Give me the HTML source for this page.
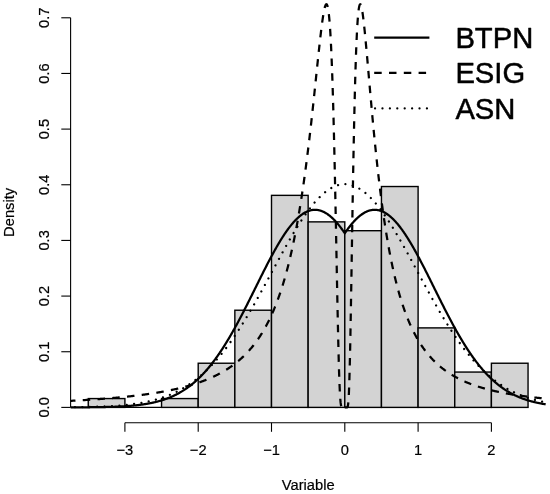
<!DOCTYPE html>
<html><head><meta charset="utf-8"><title>Density plot</title>
<style>html,body{margin:0;padding:0;background:#fff}svg{display:block}</style></head>
<body>
<svg width="550" height="494" viewBox="0 0 550 494">
<rect width="550" height="494" fill="#fff"/>
<g fill="#d3d3d3" stroke="#000" stroke-width="1.4"><rect x="88.25" y="398.57" width="36.65" height="8.83"/><path d="M124.90 407.40 H161.55"/><rect x="161.55" y="398.57" width="36.65" height="8.83"/><rect x="198.20" y="363.23" width="36.65" height="44.17"/><rect x="234.85" y="310.22" width="36.65" height="97.18"/><rect x="271.50" y="195.36" width="36.65" height="212.04"/><rect x="308.15" y="221.87" width="36.65" height="185.53"/><rect x="344.80" y="230.70" width="36.65" height="176.70"/><rect x="381.45" y="186.53" width="36.65" height="220.87"/><rect x="418.10" y="327.89" width="36.65" height="79.51"/><rect x="454.75" y="372.06" width="36.65" height="35.34"/><rect x="491.40" y="363.23" width="36.65" height="44.17"/></g>
<g fill="none" stroke="#000" stroke-width="1.1"><path d="M70.60 407.40 V17.78"/><path d="M70.60 407.40 H61.30"/><path d="M70.60 351.74 H61.30"/><path d="M70.60 296.08 H61.30"/><path d="M70.60 240.42 H61.30"/><path d="M70.60 184.76 H61.30"/><path d="M70.60 129.10 H61.30"/><path d="M70.60 73.44 H61.30"/><path d="M70.60 17.78 H61.30"/><path d="M124.90 422.80 H491.40"/><path d="M124.90 422.80 V431.80"/><path d="M198.20 422.80 V431.80"/><path d="M271.50 422.80 V431.80"/><path d="M344.80 422.80 V431.80"/><path d="M418.10 422.80 V431.80"/><path d="M491.40 422.80 V431.80"/></g>
<g fill="none" stroke="#000" stroke-width="2.25" stroke-linejoin="round">
<path d="M70.66 407.36 L71.05 407.36 L71.45 407.36 L71.85 407.35 L72.24 407.35 L72.64 407.35 L73.03 407.35 L73.43 407.35 L73.82 407.35 L74.22 407.35 L74.62 407.35 L75.01 407.34 L75.41 407.34 L75.80 407.34 L76.20 407.34 L76.60 407.34 L76.99 407.34 L77.39 407.33 L77.78 407.33 L78.18 407.33 L78.57 407.33 L78.97 407.33 L79.37 407.32 L79.76 407.32 L80.16 407.32 L80.55 407.32 L80.95 407.32 L81.35 407.31 L81.74 407.31 L82.14 407.31 L82.53 407.31 L82.93 407.30 L83.32 407.30 L83.72 407.30 L84.12 407.30 L84.51 407.29 L84.91 407.29 L85.30 407.29 L85.70 407.29 L86.09 407.28 L86.49 407.28 L86.89 407.28 L87.28 407.27 L87.68 407.27 L88.07 407.27 L88.47 407.26 L88.87 407.26 L89.26 407.26 L89.66 407.25 L90.05 407.25 L90.45 407.24 L90.84 407.24 L91.24 407.24 L91.64 407.23 L92.03 407.23 L92.43 407.22 L92.82 407.22 L93.22 407.22 L93.62 407.21 L94.01 407.21 L94.41 407.20 L94.80 407.20 L95.20 407.19 L95.59 407.19 L95.99 407.18 L96.39 407.17 L96.78 407.17 L97.18 407.16 L97.57 407.16 L97.97 407.15 L98.37 407.15 L98.76 407.14 L99.16 407.13 L99.55 407.13 L99.95 407.12 L100.34 407.11 L100.74 407.11 L101.14 407.10 L101.53 407.09 L101.93 407.08 L102.32 407.08 L102.72 407.07 L103.12 407.06 L103.51 407.05 L103.91 407.04 L104.30 407.04 L104.70 407.03 L105.09 407.02 L105.49 407.01 L105.89 407.00 L106.28 406.99 L106.68 406.98 L107.07 406.97 L107.47 406.96 L107.87 406.95 L108.26 406.94 L108.66 406.93 L109.05 406.92 L109.45 406.91 L109.84 406.89 L110.24 406.88 L110.64 406.87 L111.03 406.86 L111.43 406.85 L111.82 406.83 L112.22 406.82 L112.61 406.81 L113.01 406.79 L113.41 406.78 L113.80 406.76 L114.20 406.75 L114.59 406.74 L114.99 406.72 L115.39 406.70 L115.78 406.69 L116.18 406.67 L116.57 406.66 L116.97 406.64 L117.36 406.62 L117.76 406.61 L118.16 406.59 L118.55 406.57 L118.95 406.55 L119.34 406.53 L119.74 406.51 L120.14 406.49 L120.53 406.47 L120.93 406.45 L121.32 406.43 L121.72 406.41 L122.11 406.39 L122.51 406.37 L122.91 406.34 L123.30 406.32 L123.70 406.30 L124.09 406.27 L124.49 406.25 L124.89 406.22 L125.28 406.20 L125.68 406.17 L126.07 406.15 L126.47 406.12 L126.86 406.09 L127.26 406.07 L127.66 406.04 L128.05 406.01 L128.45 405.98 L128.84 405.95 L129.24 405.92 L129.64 405.89 L130.03 405.85 L130.43 405.82 L130.82 405.79 L131.22 405.76 L131.61 405.72 L132.01 405.69 L132.41 405.65 L132.80 405.61 L133.20 405.58 L133.59 405.54 L133.99 405.50 L134.39 405.46 L134.78 405.42 L135.18 405.38 L135.57 405.34 L135.97 405.30 L136.36 405.26 L136.76 405.21 L137.16 405.17 L137.55 405.13 L137.95 405.08 L138.34 405.03 L138.74 404.99 L139.13 404.94 L139.53 404.89 L139.93 404.84 L140.32 404.79 L140.72 404.74 L141.11 404.68 L141.51 404.63 L141.91 404.58 L142.30 404.52 L142.70 404.46 L143.09 404.41 L143.49 404.35 L143.88 404.29 L144.28 404.23 L144.68 404.17 L145.07 404.11 L145.47 404.04 L145.86 403.98 L146.26 403.91 L146.66 403.85 L147.05 403.78 L147.45 403.71 L147.84 403.64 L148.24 403.57 L148.63 403.50 L149.03 403.42 L149.43 403.35 L149.82 403.27 L150.22 403.19 L150.61 403.12 L151.01 403.04 L151.41 402.96 L151.80 402.87 L152.20 402.79 L152.59 402.70 L152.99 402.62 L153.38 402.53 L153.78 402.44 L154.18 402.35 L154.57 402.26 L154.97 402.17 L155.36 402.07 L155.76 401.97 L156.16 401.88 L156.55 401.78 L156.95 401.68 L157.34 401.57 L157.74 401.47 L158.13 401.37 L158.53 401.26 L158.93 401.15 L159.32 401.04 L159.72 400.93 L160.11 400.81 L160.51 400.70 L160.90 400.58 L161.30 400.46 L161.70 400.34 L162.09 400.22 L162.49 400.10 L162.88 399.97 L163.28 399.84 L163.68 399.71 L164.07 399.58 L164.47 399.45 L164.86 399.31 L165.26 399.17 L165.65 399.03 L166.05 398.89 L166.45 398.75 L166.84 398.61 L167.24 398.46 L167.63 398.31 L168.03 398.16 L168.43 398.00 L168.82 397.85 L169.22 397.69 L169.61 397.53 L170.01 397.37 L170.40 397.20 L170.80 397.04 L171.20 396.87 L171.59 396.70 L171.99 396.52 L172.38 396.35 L172.78 396.17 L173.18 395.99 L173.57 395.81 L173.97 395.62 L174.36 395.43 L174.76 395.24 L175.15 395.05 L175.55 394.86 L175.95 394.66 L176.34 394.46 L176.74 394.25 L177.13 394.05 L177.53 393.84 L177.93 393.63 L178.32 393.42 L178.72 393.20 L179.11 392.98 L179.51 392.76 L179.90 392.54 L180.30 392.31 L180.70 392.08 L181.09 391.85 L181.49 391.61 L181.88 391.38 L182.28 391.14 L182.68 390.89 L183.07 390.64 L183.47 390.40 L183.86 390.14 L184.26 389.89 L184.65 389.63 L185.05 389.37 L185.45 389.10 L185.84 388.83 L186.24 388.56 L186.63 388.29 L187.03 388.01 L187.42 387.73 L187.82 387.45 L188.22 387.16 L188.61 386.87 L189.01 386.58 L189.40 386.28 L189.80 385.99 L190.20 385.68 L190.59 385.38 L190.99 385.07 L191.38 384.76 L191.78 384.44 L192.17 384.12 L192.57 383.80 L192.97 383.47 L193.36 383.14 L193.76 382.81 L194.15 382.47 L194.55 382.13 L194.95 381.79 L195.34 381.44 L195.74 381.09 L196.13 380.74 L196.53 380.38 L196.92 380.02 L197.32 379.65 L197.72 379.29 L198.11 378.91 L198.51 378.54 L198.90 378.16 L199.30 377.78 L199.70 377.39 L200.09 377.00 L200.49 376.61 L200.88 376.21 L201.28 375.81 L201.67 375.40 L202.07 374.99 L202.47 374.58 L202.86 374.16 L203.26 373.74 L203.65 373.32 L204.05 372.89 L204.45 372.46 L204.84 372.02 L205.24 371.58 L205.63 371.14 L206.03 370.69 L206.42 370.24 L206.82 369.79 L207.22 369.33 L207.61 368.87 L208.01 368.40 L208.40 367.93 L208.80 367.46 L209.20 366.98 L209.59 366.50 L209.99 366.01 L210.38 365.52 L210.78 365.03 L211.17 364.53 L211.57 364.03 L211.97 363.52 L212.36 363.01 L212.76 362.50 L213.15 361.98 L213.55 361.46 L213.94 360.94 L214.34 360.41 L214.74 359.87 L215.13 359.34 L215.53 358.80 L215.92 358.25 L216.32 357.70 L216.72 357.15 L217.11 356.59 L217.51 356.03 L217.90 355.47 L218.30 354.90 L218.69 354.33 L219.09 353.75 L219.49 353.18 L219.88 352.59 L220.28 352.00 L220.67 351.41 L221.07 350.82 L221.47 350.22 L221.86 349.62 L222.26 349.01 L222.65 348.40 L223.05 347.79 L223.44 347.17 L223.84 346.55 L224.24 345.93 L224.63 345.30 L225.03 344.67 L225.42 344.03 L225.82 343.39 L226.22 342.75 L226.61 342.10 L227.01 341.46 L227.40 340.80 L227.80 340.15 L228.19 339.49 L228.59 338.82 L228.99 338.16 L229.38 337.49 L229.78 336.81 L230.17 336.13 L230.57 335.45 L230.97 334.77 L231.36 334.08 L231.76 333.39 L232.15 332.70 L232.55 332.01 L232.94 331.31 L233.34 330.60 L233.74 329.90 L234.13 329.19 L234.53 328.48 L234.92 327.76 L235.32 327.05 L235.71 326.33 L236.11 325.60 L236.51 324.88 L236.90 324.15 L237.30 323.42 L237.69 322.69 L238.09 321.95 L238.49 321.21 L238.88 320.47 L239.28 319.73 L239.67 318.98 L240.07 318.23 L240.46 317.48 L240.86 316.73 L241.26 315.97 L241.65 315.21 L242.05 314.45 L242.44 313.69 L242.84 312.93 L243.24 312.16 L243.63 311.39 L244.03 310.62 L244.42 309.85 L244.82 309.08 L245.21 308.30 L245.61 307.52 L246.01 306.75 L246.40 305.97 L246.80 305.18 L247.19 304.40 L247.59 303.62 L247.99 302.83 L248.38 302.04 L248.78 301.26 L249.17 300.47 L249.57 299.68 L249.96 298.88 L250.36 298.09 L250.76 297.30 L251.15 296.50 L251.55 295.71 L251.94 294.91 L252.34 294.12 L252.74 293.32 L253.13 292.52 L253.53 291.72 L253.92 290.93 L254.32 290.13 L254.71 289.33 L255.11 288.53 L255.51 287.73 L255.90 286.93 L256.30 286.13 L256.69 285.33 L257.09 284.54 L257.49 283.74 L257.88 282.94 L258.28 282.14 L258.67 281.35 L259.07 280.55 L259.46 279.75 L259.86 278.96 L260.26 278.16 L260.65 277.37 L261.05 276.58 L261.44 275.79 L261.84 275.00 L262.23 274.21 L262.63 273.42 L263.03 272.63 L263.42 271.85 L263.82 271.06 L264.21 270.28 L264.61 269.50 L265.01 268.72 L265.40 267.94 L265.80 267.17 L266.19 266.40 L266.59 265.62 L266.98 264.86 L267.38 264.09 L267.78 263.32 L268.17 262.56 L268.57 261.80 L268.96 261.04 L269.36 260.29 L269.76 259.54 L270.15 258.79 L270.55 258.04 L270.94 257.30 L271.34 256.56 L271.73 255.82 L272.13 255.09 L272.53 254.36 L272.92 253.63 L273.32 252.90 L273.71 252.18 L274.11 251.47 L274.51 250.75 L274.90 250.04 L275.30 249.34 L275.69 248.63 L276.09 247.94 L276.48 247.24 L276.88 246.55 L277.28 245.87 L277.67 245.18 L278.07 244.51 L278.46 243.83 L278.86 243.17 L279.26 242.50 L279.65 241.84 L280.05 241.19 L280.44 240.54 L280.84 239.90 L281.23 239.26 L281.63 238.62 L282.03 237.99 L282.42 237.37 L282.82 236.75 L283.21 236.14 L283.61 235.53 L284.00 234.93 L284.40 234.33 L284.80 233.74 L285.19 233.15 L285.59 232.57 L285.98 232.00 L286.38 231.43 L286.78 230.87 L287.17 230.32 L287.57 229.77 L287.96 229.22 L288.36 228.69 L288.75 228.15 L289.15 227.63 L289.55 227.11 L289.94 226.60 L290.34 226.10 L290.73 225.60 L291.13 225.11 L291.53 224.62 L291.92 224.14 L292.32 223.67 L292.71 223.21 L293.11 222.75 L293.50 222.30 L293.90 221.86 L294.30 221.43 L294.69 221.00 L295.09 220.58 L295.48 220.16 L295.88 219.76 L296.28 219.36 L296.67 218.97 L297.07 218.59 L297.46 218.21 L297.86 217.84 L298.25 217.48 L298.65 217.13 L299.05 216.78 L299.44 216.45 L299.84 216.12 L300.23 215.80 L300.63 215.48 L301.03 215.18 L301.42 214.88 L301.82 214.59 L302.21 214.31 L302.61 214.04 L303.00 213.78 L303.40 213.52 L303.80 213.27 L304.19 213.03 L304.59 212.80 L304.98 212.58 L305.38 212.37 L305.78 212.16 L306.17 211.96 L306.57 211.77 L306.96 211.59 L307.36 211.42 L307.75 211.26 L308.15 211.11 L308.55 210.96 L308.94 210.82 L309.34 210.69 L309.73 210.57 L310.13 210.46 L310.52 210.36 L310.92 210.27 L311.32 210.18 L311.71 210.10 L312.11 210.04 L312.50 209.98 L312.90 209.93 L313.30 209.89 L313.69 209.85 L314.09 209.83 L314.48 209.81 L314.88 209.81 L315.27 209.81 L315.67 209.82 L316.07 209.84 L316.46 209.87 L316.86 209.91 L317.25 209.95 L317.65 210.01 L318.05 210.07 L318.44 210.15 L318.84 210.23 L319.23 210.32 L319.63 210.42 L320.02 210.52 L320.42 210.64 L320.82 210.76 L321.21 210.90 L321.61 211.04 L322.00 211.19 L322.40 211.35 L322.80 211.52 L323.19 211.69 L323.59 211.88 L323.98 212.07 L324.38 212.27 L324.77 212.48 L325.17 212.70 L325.57 212.93 L325.96 213.17 L326.36 213.41 L326.75 213.66 L327.15 213.92 L327.55 214.19 L327.94 214.47 L328.34 214.75 L328.73 215.05 L329.13 215.35 L329.52 215.66 L329.92 215.98 L330.32 216.30 L330.71 216.63 L331.11 216.98 L331.50 217.32 L331.90 217.68 L332.30 218.05 L332.69 218.42 L333.09 218.80 L333.48 219.19 L333.88 219.58 L334.27 219.98 L334.67 220.39 L335.07 220.81 L335.46 221.24 L335.86 221.67 L336.25 222.11 L336.65 222.55 L337.04 223.01 L337.44 223.47 L337.84 223.93 L338.23 224.41 L338.63 224.89 L339.02 225.38 L339.42 225.87 L339.82 226.38 L340.21 226.88 L340.61 227.40 L341.00 227.92 L341.40 228.45 L341.79 228.98 L342.19 229.52 L342.59 230.07 L342.98 230.62 L343.38 231.18 L343.77 231.75 L344.17 232.32 L344.57 232.90 L344.80 233.24 L344.96 233.00 L345.36 232.43 L345.75 231.85 L346.15 231.29 L346.54 230.73 L346.94 230.17 L347.34 229.62 L347.73 229.08 L348.13 228.55 L348.52 228.02 L348.92 227.50 L349.32 226.98 L349.71 226.47 L350.11 225.97 L350.50 225.47 L350.90 224.98 L351.29 224.50 L351.69 224.02 L352.09 223.55 L352.48 223.09 L352.88 222.64 L353.27 222.19 L353.67 221.75 L354.07 221.31 L354.46 220.89 L354.86 220.47 L355.25 220.06 L355.65 219.65 L356.04 219.26 L356.44 218.87 L356.84 218.49 L357.23 218.11 L357.63 217.75 L358.02 217.39 L358.42 217.04 L358.81 216.70 L359.21 216.36 L359.61 216.03 L360.00 215.72 L360.40 215.41 L360.79 215.10 L361.19 214.81 L361.59 214.52 L361.98 214.24 L362.38 213.97 L362.77 213.71 L363.17 213.46 L363.56 213.21 L363.96 212.97 L364.36 212.74 L364.75 212.52 L365.15 212.31 L365.54 212.11 L365.94 211.91 L366.34 211.73 L366.73 211.55 L367.13 211.38 L367.52 211.22 L367.92 211.07 L368.31 210.92 L368.71 210.79 L369.11 210.66 L369.50 210.54 L369.90 210.43 L370.29 210.33 L370.69 210.24 L371.09 210.16 L371.48 210.09 L371.88 210.02 L372.27 209.96 L372.67 209.92 L373.06 209.88 L373.46 209.85 L373.86 209.82 L374.25 209.81 L374.65 209.81 L375.04 209.81 L375.44 209.83 L375.84 209.85 L376.23 209.88 L376.63 209.92 L377.02 209.97 L377.42 210.02 L377.81 210.09 L378.21 210.17 L378.61 210.25 L379.00 210.34 L379.40 210.44 L379.79 210.55 L380.19 210.67 L380.59 210.80 L380.98 210.93 L381.38 211.08 L381.77 211.23 L382.17 211.39 L382.56 211.56 L382.96 211.74 L383.36 211.93 L383.75 212.12 L384.15 212.33 L384.54 212.54 L384.94 212.76 L385.33 212.99 L385.73 213.23 L386.13 213.47 L386.52 213.73 L386.92 213.99 L387.31 214.26 L387.71 214.54 L388.11 214.83 L388.50 215.12 L388.90 215.43 L389.29 215.74 L389.69 216.06 L390.08 216.39 L390.48 216.72 L390.88 217.06 L391.27 217.42 L391.67 217.77 L392.06 218.14 L392.46 218.52 L392.86 218.90 L393.25 219.29 L393.65 219.68 L394.04 220.09 L394.44 220.50 L394.83 220.92 L395.23 221.35 L395.63 221.78 L396.02 222.22 L396.42 222.67 L396.81 223.13 L397.21 223.59 L397.61 224.06 L398.00 224.53 L398.40 225.02 L398.79 225.51 L399.19 226.00 L399.58 226.51 L399.98 227.02 L400.38 227.53 L400.77 228.06 L401.17 228.59 L401.56 229.12 L401.96 229.66 L402.36 230.21 L402.75 230.77 L403.15 231.33 L403.54 231.90 L403.94 232.47 L404.33 233.05 L404.73 233.63 L405.13 234.22 L405.52 234.82 L405.92 235.42 L406.31 236.02 L406.71 236.64 L407.10 237.25 L407.50 237.88 L407.90 238.51 L408.29 239.14 L408.69 239.78 L409.08 240.42 L409.48 241.07 L409.88 241.72 L410.27 242.38 L410.67 243.04 L411.06 243.71 L411.46 244.38 L411.85 245.06 L412.25 245.74 L412.65 246.42 L413.04 247.11 L413.44 247.81 L413.83 248.50 L414.23 249.21 L414.63 249.91 L415.02 250.62 L415.42 251.33 L415.81 252.05 L416.21 252.77 L416.60 253.49 L417.00 254.22 L417.40 254.95 L417.79 255.68 L418.19 256.42 L418.58 257.16 L418.98 257.90 L419.38 258.65 L419.77 259.40 L420.17 260.15 L420.56 260.90 L420.96 261.66 L421.35 262.42 L421.75 263.18 L422.15 263.95 L422.54 264.71 L422.94 265.48 L423.33 266.25 L423.73 267.03 L424.13 267.80 L424.52 268.58 L424.92 269.36 L425.31 270.14 L425.71 270.92 L426.10 271.70 L426.50 272.49 L426.90 273.27 L427.29 274.06 L427.69 274.85 L428.08 275.64 L428.48 276.43 L428.88 277.22 L429.27 278.02 L429.67 278.81 L430.06 279.61 L430.46 280.40 L430.85 281.20 L431.25 281.99 L431.65 282.79 L432.04 283.59 L432.44 284.39 L432.83 285.19 L433.23 285.99 L433.62 286.78 L434.02 287.58 L434.42 288.38 L434.81 289.18 L435.21 289.98 L435.60 290.78 L436.00 291.58 L436.40 292.37 L436.79 293.17 L437.19 293.97 L437.58 294.77 L437.98 295.56 L438.37 296.36 L438.77 297.15 L439.17 297.94 L439.56 298.74 L439.96 299.53 L440.35 300.32 L440.75 301.11 L441.15 301.90 L441.54 302.69 L441.94 303.47 L442.33 304.26 L442.73 305.04 L443.12 305.82 L443.52 306.60 L443.92 307.38 L444.31 308.16 L444.71 308.93 L445.10 309.71 L445.50 310.48 L445.90 311.25 L446.29 312.02 L446.69 312.78 L447.08 313.55 L447.48 314.31 L447.87 315.07 L448.27 315.83 L448.67 316.59 L449.06 317.34 L449.46 318.09 L449.85 318.84 L450.25 319.59 L450.65 320.33 L451.04 321.07 L451.44 321.81 L451.83 322.55 L452.23 323.28 L452.62 324.02 L453.02 324.74 L453.42 325.47 L453.81 326.19 L454.21 326.91 L454.60 327.63 L455.00 328.35 L455.40 329.06 L455.79 329.77 L456.19 330.47 L456.58 331.18 L456.98 331.88 L457.37 332.57 L457.77 333.27 L458.17 333.96 L458.56 334.64 L458.96 335.33 L459.35 336.01 L459.75 336.69 L460.14 337.36 L460.54 338.03 L460.94 338.70 L461.33 339.36 L461.73 340.02 L462.12 340.68 L462.52 341.33 L462.92 341.98 L463.31 342.63 L463.71 343.27 L464.10 343.91 L464.50 344.55 L464.89 345.18 L465.29 345.81 L465.69 346.44 L466.08 347.06 L466.48 347.68 L466.87 348.29 L467.27 348.90 L467.67 349.51 L468.06 350.11 L468.46 350.71 L468.85 351.30 L469.25 351.90 L469.64 352.48 L470.04 353.07 L470.44 353.65 L470.83 354.22 L471.23 354.80 L471.62 355.36 L472.02 355.93 L472.42 356.49 L472.81 357.05 L473.21 357.60 L473.60 358.15 L474.00 358.70 L474.39 359.24 L474.79 359.77 L475.19 360.31 L475.58 360.84 L475.98 361.36 L476.37 361.89 L476.77 362.40 L477.17 362.92 L477.56 363.43 L477.96 363.93 L478.35 364.44 L478.75 364.93 L479.14 365.43 L479.54 365.92 L479.94 366.41 L480.33 366.89 L480.73 367.37 L481.12 367.84 L481.52 368.31 L481.91 368.78 L482.31 369.24 L482.71 369.70 L483.10 370.16 L483.50 370.61 L483.89 371.06 L484.29 371.50 L484.69 371.94 L485.08 372.38 L485.48 372.81 L485.87 373.24 L486.27 373.66 L486.66 374.09 L487.06 374.50 L487.46 374.92 L487.85 375.33 L488.25 375.73 L488.64 376.13 L489.04 376.53 L489.44 376.93 L489.83 377.32 L490.23 377.71 L490.62 378.09 L491.02 378.47 L491.41 378.84 L491.81 379.22 L492.21 379.59 L492.60 379.95 L493.00 380.31 L493.39 380.67 L493.79 381.03 L494.19 381.38 L494.58 381.73 L494.98 382.07 L495.37 382.41 L495.77 382.75 L496.16 383.08 L496.56 383.41 L496.96 383.74 L497.35 384.06 L497.75 384.38 L498.14 384.70 L498.54 385.01 L498.94 385.32 L499.33 385.63 L499.73 385.93 L500.12 386.23 L500.52 386.53 L500.91 386.82 L501.31 387.11 L501.71 387.40 L502.10 387.68 L502.50 387.96 L502.89 388.24 L503.29 388.51 L503.69 388.78 L504.08 389.05 L504.48 389.32 L504.87 389.58 L505.27 389.84 L505.66 390.10 L506.06 390.35 L506.46 390.60 L506.85 390.85 L507.25 391.09 L507.64 391.33 L508.04 391.57 L508.43 391.81 L508.83 392.04 L509.23 392.27 L509.62 392.50 L510.02 392.72 L510.41 392.94 L510.81 393.16 L511.21 393.38 L511.60 393.59 L512.00 393.80 L512.39 394.01 L512.79 394.22 L513.18 394.42 L513.58 394.62 L513.98 394.82 L514.37 395.01 L514.77 395.21 L515.16 395.40 L515.56 395.59 L515.96 395.77 L516.35 395.96 L516.75 396.14 L517.14 396.31 L517.54 396.49 L517.93 396.66 L518.33 396.84 L518.73 397.01 L519.12 397.17 L519.52 397.34 L519.91 397.50 L520.31 397.66 L520.71 397.82 L521.10 397.97 L521.50 398.13 L521.89 398.28 L522.29 398.43 L522.68 398.58 L523.08 398.72 L523.48 398.87 L523.87 399.01 L524.27 399.15 L524.66 399.29 L525.06 399.42 L525.46 399.56 L525.85 399.69 L526.25 399.82 L526.64 399.95 L527.04 400.07 L527.43 400.20 L527.83 400.32 L528.23 400.44 L528.62 400.56 L529.02 400.68 L529.41 400.79 L529.81 400.91 L530.21 401.02 L530.60 401.13 L531.00 401.24 L531.39 401.35 L531.79 401.45 L532.18 401.56 L532.58 401.66 L532.98 401.76 L533.37 401.86 L533.77 401.96 L534.16 402.05 L534.56 402.15 L534.95 402.24 L535.35 402.33 L535.75 402.42 L536.14 402.51 L536.54 402.60 L536.93 402.69 L537.33 402.77 L537.73 402.86 L538.12 402.94 L538.52 403.02 L538.91 403.10 L539.31 403.18 L539.70 403.26 L540.10 403.33 L540.50 403.41 L540.89 403.48 L541.29 403.55 L541.68 403.63 L542.08 403.70 L542.48 403.77 L542.87 403.83 L543.27 403.90 L543.66 403.97 L544.06 404.03 L544.45 404.09 L544.85 404.16 L545.25 404.22 L545.64 404.28"/>
<path d="M70.66 400.84 L71.05 400.82 L71.45 400.80 L71.85 400.78 L72.24 400.76 L72.64 400.74 L73.03 400.72 L73.43 400.69 L73.82 400.67 L74.22 400.65 L74.62 400.63 L75.01 400.61 L75.41 400.59 L75.80 400.56 L76.20 400.54 L76.60 400.52 L76.99 400.50 L77.39 400.48 L77.78 400.45 L78.18 400.43 L78.57 400.41 L78.97 400.39 L79.37 400.36 L79.76 400.34 L80.16 400.32 L80.55 400.30 L80.95 400.27 L81.35 400.25 L81.74 400.23 L82.14 400.20 L82.53 400.18 L82.93 400.16 L83.32 400.13 L83.72 400.11 L84.12 400.08 L84.51 400.06 L84.91 400.04 L85.30 400.01 L85.70 399.99 L86.09 399.96 L86.49 399.94 L86.89 399.91 L87.28 399.89 L87.68 399.86 L88.07 399.84 L88.47 399.81 L88.87 399.79 L89.26 399.76 L89.66 399.74 L90.05 399.71 L90.45 399.68 L90.84 399.66 L91.24 399.63 L91.64 399.61 L92.03 399.58 L92.43 399.55 L92.82 399.53 L93.22 399.50 L93.62 399.47 L94.01 399.44 L94.41 399.42 L94.80 399.39 L95.20 399.36 L95.59 399.34 L95.99 399.31 L96.39 399.28 L96.78 399.25 L97.18 399.22 L97.57 399.20 L97.97 399.17 L98.37 399.14 L98.76 399.11 L99.16 399.08 L99.55 399.05 L99.95 399.02 L100.34 398.99 L100.74 398.96 L101.14 398.93 L101.53 398.91 L101.93 398.88 L102.32 398.85 L102.72 398.82 L103.12 398.78 L103.51 398.75 L103.91 398.72 L104.30 398.69 L104.70 398.66 L105.09 398.63 L105.49 398.60 L105.89 398.57 L106.28 398.54 L106.68 398.51 L107.07 398.47 L107.47 398.44 L107.87 398.41 L108.26 398.38 L108.66 398.34 L109.05 398.31 L109.45 398.28 L109.84 398.25 L110.24 398.21 L110.64 398.18 L111.03 398.15 L111.43 398.11 L111.82 398.08 L112.22 398.04 L112.61 398.01 L113.01 397.97 L113.41 397.94 L113.80 397.91 L114.20 397.87 L114.59 397.84 L114.99 397.80 L115.39 397.76 L115.78 397.73 L116.18 397.69 L116.57 397.66 L116.97 397.62 L117.36 397.58 L117.76 397.55 L118.16 397.51 L118.55 397.47 L118.95 397.44 L119.34 397.40 L119.74 397.36 L120.14 397.32 L120.53 397.28 L120.93 397.25 L121.32 397.21 L121.72 397.17 L122.11 397.13 L122.51 397.09 L122.91 397.05 L123.30 397.01 L123.70 396.97 L124.09 396.93 L124.49 396.89 L124.89 396.85 L125.28 396.81 L125.68 396.77 L126.07 396.73 L126.47 396.69 L126.86 396.65 L127.26 396.60 L127.66 396.56 L128.05 396.52 L128.45 396.48 L128.84 396.44 L129.24 396.39 L129.64 396.35 L130.03 396.31 L130.43 396.26 L130.82 396.22 L131.22 396.17 L131.61 396.13 L132.01 396.08 L132.41 396.04 L132.80 395.99 L133.20 395.95 L133.59 395.90 L133.99 395.86 L134.39 395.81 L134.78 395.77 L135.18 395.72 L135.57 395.67 L135.97 395.62 L136.36 395.58 L136.76 395.53 L137.16 395.48 L137.55 395.43 L137.95 395.38 L138.34 395.33 L138.74 395.29 L139.13 395.24 L139.53 395.19 L139.93 395.14 L140.32 395.09 L140.72 395.03 L141.11 394.98 L141.51 394.93 L141.91 394.88 L142.30 394.83 L142.70 394.78 L143.09 394.72 L143.49 394.67 L143.88 394.62 L144.28 394.56 L144.68 394.51 L145.07 394.46 L145.47 394.40 L145.86 394.35 L146.26 394.29 L146.66 394.24 L147.05 394.18 L147.45 394.13 L147.84 394.07 L148.24 394.01 L148.63 393.96 L149.03 393.90 L149.43 393.84 L149.82 393.78 L150.22 393.72 L150.61 393.66 L151.01 393.61 L151.41 393.55 L151.80 393.49 L152.20 393.43 L152.59 393.36 L152.99 393.30 L153.38 393.24 L153.78 393.18 L154.18 393.12 L154.57 393.06 L154.97 392.99 L155.36 392.93 L155.76 392.87 L156.16 392.80 L156.55 392.74 L156.95 392.67 L157.34 392.61 L157.74 392.54 L158.13 392.47 L158.53 392.41 L158.93 392.34 L159.32 392.27 L159.72 392.20 L160.11 392.14 L160.51 392.07 L160.90 392.00 L161.30 391.93 L161.70 391.86 L162.09 391.79 L162.49 391.72 L162.88 391.64 L163.28 391.57 L163.68 391.50 L164.07 391.43 L164.47 391.35 L164.86 391.28 L165.26 391.21 L165.65 391.13 L166.05 391.06 L166.45 390.98 L166.84 390.90 L167.24 390.83 L167.63 390.75 L168.03 390.67 L168.43 390.59 L168.82 390.51 L169.22 390.43 L169.61 390.35 L170.01 390.27 L170.40 390.19 L170.80 390.11 L171.20 390.03 L171.59 389.95 L171.99 389.86 L172.38 389.78 L172.78 389.69 L173.18 389.61 L173.57 389.52 L173.97 389.44 L174.36 389.35 L174.76 389.26 L175.15 389.17 L175.55 389.09 L175.95 389.00 L176.34 388.91 L176.74 388.82 L177.13 388.72 L177.53 388.63 L177.93 388.54 L178.32 388.45 L178.72 388.35 L179.11 388.26 L179.51 388.16 L179.90 388.07 L180.30 387.97 L180.70 387.88 L181.09 387.78 L181.49 387.68 L181.88 387.58 L182.28 387.48 L182.68 387.38 L183.07 387.28 L183.47 387.18 L183.86 387.07 L184.26 386.97 L184.65 386.87 L185.05 386.76 L185.45 386.65 L185.84 386.55 L186.24 386.44 L186.63 386.33 L187.03 386.22 L187.42 386.11 L187.82 386.00 L188.22 385.89 L188.61 385.78 L189.01 385.67 L189.40 385.55 L189.80 385.44 L190.20 385.32 L190.59 385.21 L190.99 385.09 L191.38 384.97 L191.78 384.85 L192.17 384.73 L192.57 384.61 L192.97 384.49 L193.36 384.37 L193.76 384.24 L194.15 384.12 L194.55 383.99 L194.95 383.87 L195.34 383.74 L195.74 383.61 L196.13 383.48 L196.53 383.35 L196.92 383.22 L197.32 383.09 L197.72 382.95 L198.11 382.82 L198.51 382.68 L198.90 382.54 L199.30 382.41 L199.70 382.27 L200.09 382.13 L200.49 381.99 L200.88 381.84 L201.28 381.70 L201.67 381.56 L202.07 381.41 L202.47 381.26 L202.86 381.12 L203.26 380.97 L203.65 380.82 L204.05 380.67 L204.45 380.51 L204.84 380.36 L205.24 380.20 L205.63 380.05 L206.03 379.89 L206.42 379.73 L206.82 379.57 L207.22 379.41 L207.61 379.24 L208.01 379.08 L208.40 378.91 L208.80 378.75 L209.20 378.58 L209.59 378.41 L209.99 378.24 L210.38 378.06 L210.78 377.89 L211.17 377.71 L211.57 377.53 L211.97 377.36 L212.36 377.18 L212.76 376.99 L213.15 376.81 L213.55 376.62 L213.94 376.44 L214.34 376.25 L214.74 376.06 L215.13 375.87 L215.53 375.67 L215.92 375.48 L216.32 375.28 L216.72 375.08 L217.11 374.88 L217.51 374.68 L217.90 374.48 L218.30 374.27 L218.69 374.07 L219.09 373.86 L219.49 373.65 L219.88 373.43 L220.28 373.22 L220.67 373.00 L221.07 372.78 L221.47 372.56 L221.86 372.34 L222.26 372.12 L222.65 371.89 L223.05 371.66 L223.44 371.43 L223.84 371.20 L224.24 370.96 L224.63 370.72 L225.03 370.49 L225.42 370.24 L225.82 370.00 L226.22 369.75 L226.61 369.51 L227.01 369.25 L227.40 369.00 L227.80 368.75 L228.19 368.49 L228.59 368.23 L228.99 367.96 L229.38 367.70 L229.78 367.43 L230.17 367.16 L230.57 366.89 L230.97 366.61 L231.36 366.33 L231.76 366.05 L232.15 365.77 L232.55 365.48 L232.94 365.19 L233.34 364.90 L233.74 364.61 L234.13 364.31 L234.53 364.01 L234.92 363.70 L235.32 363.40 L235.71 363.09 L236.11 362.77 L236.51 362.46 L236.90 362.14 L237.30 361.82 L237.69 361.49 L238.09 361.16 L238.49 360.83 L238.88 360.49 L239.28 360.16 L239.67 359.81 L240.07 359.47 L240.46 359.12 L240.86 358.76 L241.26 358.41 L241.65 358.05 L242.05 357.68 L242.44 357.31 L242.84 356.94 L243.24 356.57 L243.63 356.19 L244.03 355.80 L244.42 355.41 L244.82 355.02 L245.21 354.63 L245.61 354.23 L246.01 353.82 L246.40 353.41 L246.80 353.00 L247.19 352.58 L247.59 352.16 L247.99 351.73 L248.38 351.30 L248.78 350.86 L249.17 350.42 L249.57 349.98 L249.96 349.52 L250.36 349.07 L250.76 348.61 L251.15 348.14 L251.55 347.67 L251.94 347.19 L252.34 346.71 L252.74 346.22 L253.13 345.73 L253.53 345.23 L253.92 344.73 L254.32 344.22 L254.71 343.70 L255.11 343.18 L255.51 342.65 L255.90 342.12 L256.30 341.58 L256.69 341.03 L257.09 340.48 L257.49 339.92 L257.88 339.36 L258.28 338.78 L258.67 338.20 L259.07 337.62 L259.46 337.03 L259.86 336.43 L260.26 335.82 L260.65 335.20 L261.05 334.58 L261.44 333.95 L261.84 333.32 L262.23 332.67 L262.63 332.02 L263.03 331.36 L263.42 330.69 L263.82 330.02 L264.21 329.33 L264.61 328.64 L265.01 327.93 L265.40 327.22 L265.80 326.50 L266.19 325.78 L266.59 325.04 L266.98 324.29 L267.38 323.53 L267.78 322.77 L268.17 321.99 L268.57 321.21 L268.96 320.41 L269.36 319.61 L269.76 318.79 L270.15 317.96 L270.55 317.12 L270.94 316.28 L271.34 315.42 L271.73 314.55 L272.13 313.66 L272.53 312.77 L272.92 311.86 L273.32 310.95 L273.71 310.02 L274.11 309.07 L274.51 308.12 L274.90 307.15 L275.30 306.17 L275.69 305.18 L276.09 304.17 L276.48 303.15 L276.88 302.12 L277.28 301.07 L277.67 300.00 L278.07 298.93 L278.46 297.83 L278.86 296.73 L279.26 295.60 L279.65 294.46 L280.05 293.31 L280.44 292.14 L280.84 290.95 L281.23 289.75 L281.63 288.53 L282.03 287.29 L282.42 286.03 L282.82 284.76 L283.21 283.47 L283.61 282.16 L284.00 280.83 L284.40 279.48 L284.80 278.12 L285.19 276.73 L285.59 275.32 L285.98 273.90 L286.38 272.45 L286.78 270.98 L287.17 269.49 L287.57 267.98 L287.96 266.44 L288.36 264.88 L288.75 263.30 L289.15 261.70 L289.55 260.07 L289.94 258.42 L290.34 256.75 L290.73 255.05 L291.13 253.32 L291.53 251.57 L291.92 249.79 L292.32 247.99 L292.71 246.15 L293.11 244.30 L293.50 242.41 L293.90 240.49 L294.30 238.55 L294.69 236.58 L295.09 234.57 L295.48 232.54 L295.88 230.48 L296.28 228.38 L296.67 226.26 L297.07 224.10 L297.46 221.91 L297.86 219.68 L298.25 217.42 L298.65 215.13 L299.05 212.81 L299.44 210.45 L299.84 208.05 L300.23 205.62 L300.63 203.15 L301.03 200.65 L301.42 198.11 L301.82 195.53 L302.21 192.91 L302.61 190.26 L303.00 187.56 L303.40 184.83 L303.80 182.06 L304.19 179.25 L304.59 176.40 L304.98 173.51 L305.38 170.58 L305.78 167.60 L306.17 164.59 L306.57 161.54 L306.96 158.44 L307.36 155.31 L307.75 152.14 L308.15 148.92 L308.55 145.66 L308.94 142.37 L309.34 139.03 L309.73 135.66 L310.13 132.25 L310.52 128.80 L310.92 125.31 L311.32 121.79 L311.71 118.23 L312.11 114.64 L312.50 111.02 L312.90 107.37 L313.30 103.69 L313.69 99.98 L314.09 96.25 L314.48 92.50 L314.88 88.73 L315.27 84.95 L315.67 81.15 L316.07 77.35 L316.46 73.55 L316.86 69.74 L317.25 65.95 L317.65 62.16 L318.05 58.40 L318.44 54.66 L318.84 50.96 L319.23 47.30 L319.63 43.69 L320.02 40.15 L320.42 36.67 L320.82 33.28 L321.21 29.99 L321.61 26.81 L322.00 23.75 L322.40 20.84 L322.80 18.08 L323.19 15.51 L323.59 13.13 L323.98 10.98 L324.38 9.07 L324.77 7.44 L325.17 6.10 L325.57 5.09 L325.96 4.45 L326.36 4.19 L326.75 4.37 L327.15 5.02 L327.55 6.17 L327.94 7.88 L328.34 10.18 L328.73 13.12 L329.13 16.76 L329.52 21.14 L329.92 26.31 L330.32 32.32 L330.71 39.22 L331.11 47.06 L331.50 55.90 L331.90 65.76 L332.30 76.70 L332.69 88.73 L333.09 101.87 L333.48 116.14 L333.88 131.52 L334.27 147.97 L334.67 165.43 L335.07 183.83 L335.46 203.02 L335.86 222.85 L336.25 243.11 L336.65 263.54 L337.04 283.84 L337.44 303.66 L337.84 322.62 L338.23 340.31 L338.63 356.34 L339.02 370.35 L339.42 382.05 L339.82 391.29 L340.21 398.08 L340.61 402.63 L341.00 405.32 L341.40 406.68 L341.79 407.22 L342.19 407.37 L342.59 407.40 L342.98 407.40 L343.38 407.40 L343.77 407.40 L344.17 407.40 L344.57 407.40 L344.80 407.40" stroke-dasharray="7.5 7.3" stroke-dashoffset="2.70"/>
<path d="M344.80 407.40 L344.96 407.40 L345.36 407.40 L345.75 407.40 L346.15 407.40 L346.54 407.40 L346.94 407.38 L347.34 407.20 L347.73 406.44 L348.13 404.36 L348.52 400.03 L348.92 392.71 L349.32 381.95 L349.71 367.70 L350.11 350.24 L350.50 330.10 L350.90 307.93 L351.29 284.41 L351.69 260.19 L352.09 235.85 L352.48 211.90 L352.88 188.72 L353.27 166.62 L353.67 145.83 L354.07 126.50 L354.46 108.71 L354.86 92.51 L355.25 77.90 L355.65 64.85 L356.04 53.32 L356.44 43.23 L356.84 34.52 L357.23 27.11 L357.63 20.90 L358.02 15.81 L358.42 11.76 L358.81 8.66 L359.21 6.44 L359.61 5.00 L360.00 4.30 L360.40 4.24 L360.79 4.78 L361.19 5.85 L361.59 7.40 L361.98 9.37 L362.38 11.73 L362.77 14.42 L363.17 17.41 L363.56 20.66 L363.96 24.14 L364.36 27.82 L364.75 31.67 L365.15 35.67 L365.54 39.79 L365.94 44.02 L366.34 48.34 L366.73 52.72 L367.13 57.16 L367.52 61.64 L367.92 66.15 L368.31 70.68 L368.71 75.21 L369.11 79.75 L369.50 84.28 L369.90 88.79 L370.29 93.28 L370.69 97.75 L371.09 102.18 L371.48 106.58 L371.88 110.94 L372.27 115.26 L372.67 119.53 L373.06 123.75 L373.46 127.92 L373.86 132.04 L374.25 136.11 L374.65 140.12 L375.04 144.08 L375.44 147.98 L375.84 151.82 L376.23 155.61 L376.63 159.33 L377.02 163.00 L377.42 166.62 L377.81 170.17 L378.21 173.67 L378.61 177.11 L379.00 180.49 L379.40 183.82 L379.79 187.09 L380.19 190.31 L380.59 193.47 L380.98 196.57 L381.38 199.62 L381.77 202.62 L382.17 205.57 L382.56 208.47 L382.96 211.31 L383.36 214.11 L383.75 216.85 L384.15 219.55 L384.54 222.20 L384.94 224.81 L385.33 227.36 L385.73 229.88 L386.13 232.34 L386.52 234.77 L386.92 237.15 L387.31 239.49 L387.71 241.79 L388.11 244.05 L388.50 246.26 L388.90 248.44 L389.29 250.58 L389.69 252.69 L390.08 254.75 L390.48 256.78 L390.88 258.78 L391.27 260.74 L391.67 262.66 L392.06 264.55 L392.46 266.41 L392.86 268.24 L393.25 270.04 L393.65 271.80 L394.04 273.54 L394.44 275.24 L394.83 276.92 L395.23 278.57 L395.63 280.19 L396.02 281.78 L396.42 283.35 L396.81 284.89 L397.21 286.40 L397.61 287.89 L398.00 289.36 L398.40 290.80 L398.79 292.21 L399.19 293.60 L399.58 294.97 L399.98 296.32 L400.38 297.65 L400.77 298.95 L401.17 300.23 L401.56 301.50 L401.96 302.74 L402.36 303.96 L402.75 305.16 L403.15 306.35 L403.54 307.51 L403.94 308.66 L404.33 309.79 L404.73 310.90 L405.13 311.99 L405.52 313.07 L405.92 314.13 L406.31 315.17 L406.71 316.20 L407.10 317.21 L407.50 318.21 L407.90 319.19 L408.29 320.15 L408.69 321.11 L409.08 322.04 L409.48 322.97 L409.88 323.88 L410.27 324.77 L410.67 325.65 L411.06 326.52 L411.46 327.38 L411.85 328.22 L412.25 329.06 L412.65 329.88 L413.04 330.68 L413.44 331.48 L413.83 332.26 L414.23 333.04 L414.63 333.80 L415.02 334.55 L415.42 335.29 L415.81 336.02 L416.21 336.74 L416.60 337.45 L417.00 338.15 L417.40 338.84 L417.79 339.52 L418.19 340.20" stroke-dasharray="7.5 7.3" stroke-dashoffset="14.71"/>
<path d="M418.19 340.20 L418.58 340.86 L418.98 341.51 L419.38 342.16 L419.77 342.79 L420.17 343.42 L420.56 344.04 L420.96 344.65 L421.35 345.25 L421.75 345.84 L422.15 346.43 L422.54 347.00 L422.94 347.57 L423.33 348.14 L423.73 348.69 L424.13 349.24 L424.52 349.78 L424.92 350.32 L425.31 350.84 L425.71 351.36 L426.10 351.88 L426.50 352.38 L426.90 352.88 L427.29 353.38 L427.69 353.86 L428.08 354.35 L428.48 354.82 L428.88 355.29 L429.27 355.75 L429.67 356.21 L430.06 356.66 L430.46 357.11 L430.85 357.55 L431.25 357.99 L431.65 358.42 L432.04 358.84 L432.44 359.26 L432.83 359.68 L433.23 360.09 L433.62 360.49 L434.02 360.89 L434.42 361.29 L434.81 361.68 L435.21 362.06 L435.60 362.44 L436.00 362.82 L436.40 363.19 L436.79 363.56 L437.19 363.92 L437.58 364.28 L437.98 364.64 L438.37 364.99 L438.77 365.34 L439.17 365.68 L439.56 366.02 L439.96 366.35 L440.35 366.69 L440.75 367.01 L441.15 367.34 L441.54 367.66 L441.94 367.97 L442.33 368.29 L442.73 368.60 L443.12 368.90 L443.52 369.20 L443.92 369.50 L444.31 369.80 L444.71 370.09 L445.10 370.38 L445.50 370.67 L445.90 370.95 L446.29 371.23 L446.69 371.51 L447.08 371.78 L447.48 372.05 L447.87 372.32 L448.27 372.59 L448.67 372.85 L449.06 373.11 L449.46 373.37 L449.85 373.62 L450.25 373.87 L450.65 374.12 L451.04 374.37 L451.44 374.61 L451.83 374.85 L452.23 375.09 L452.62 375.33 L453.02 375.56 L453.42 375.79 L453.81 376.02 L454.21 376.25 L454.60 376.47 L455.00 376.70 L455.40 376.92 L455.79 377.13 L456.19 377.35 L456.58 377.56 L456.98 377.77 L457.37 377.98 L457.77 378.19 L458.17 378.39 L458.56 378.60 L458.96 378.80 L459.35 379.00 L459.75 379.19 L460.14 379.39 L460.54 379.58 L460.94 379.77 L461.33 379.96 L461.73 380.15 L462.12 380.33 L462.52 380.52 L462.92 380.70 L463.31 380.88 L463.71 381.06 L464.10 381.24 L464.50 381.41 L464.89 381.59 L465.29 381.76 L465.69 381.93 L466.08 382.10 L466.48 382.26 L466.87 382.43 L467.27 382.59 L467.67 382.76 L468.06 382.92 L468.46 383.08 L468.85 383.23 L469.25 383.39 L469.64 383.55 L470.04 383.70 L470.44 383.85 L470.83 384.00 L471.23 384.15 L471.62 384.30 L472.02 384.45 L472.42 384.59 L472.81 384.74 L473.21 384.88 L473.60 385.02 L474.00 385.16 L474.39 385.30 L474.79 385.44 L475.19 385.58 L475.58 385.71 L475.98 385.85 L476.37 385.98 L476.77 386.11 L477.17 386.24 L477.56 386.37 L477.96 386.50 L478.35 386.63 L478.75 386.75 L479.14 386.88 L479.54 387.00 L479.94 387.13 L480.33 387.25 L480.73 387.37 L481.12 387.49 L481.52 387.61 L481.91 387.73 L482.31 387.84 L482.71 387.96 L483.10 388.07 L483.50 388.19 L483.89 388.30 L484.29 388.41 L484.69 388.52 L485.08 388.63 L485.48 388.74 L485.87 388.85 L486.27 388.96 L486.66 389.07 L487.06 389.17 L487.46 389.28 L487.85 389.38 L488.25 389.48 L488.64 389.59 L489.04 389.69 L489.44 389.79 L489.83 389.89 L490.23 389.99 L490.62 390.09 L491.02 390.18 L491.41 390.28 L491.81 390.38 L492.21 390.47 L492.60 390.57 L493.00 390.66 L493.39 390.75 L493.79 390.84 L494.19 390.94 L494.58 391.03 L494.98 391.12 L495.37 391.21 L495.77 391.29 L496.16 391.38 L496.56 391.47 L496.96 391.56 L497.35 391.64 L497.75 391.73 L498.14 391.81 L498.54 391.90 L498.94 391.98 L499.33 392.06 L499.73 392.14 L500.12 392.23 L500.52 392.31 L500.91 392.39 L501.31 392.47 L501.71 392.55 L502.10 392.62 L502.50 392.70 L502.89 392.78 L503.29 392.86 L503.69 392.93 L504.08 393.01 L504.48 393.08 L504.87 393.16 L505.27 393.23 L505.66 393.30 L506.06 393.38 L506.46 393.45 L506.85 393.52 L507.25 393.59 L507.64 393.66 L508.04 393.73 L508.43 393.80 L508.83 393.87 L509.23 393.94 L509.62 394.01 L510.02 394.08 L510.41 394.14 L510.81 394.21 L511.21 394.28 L511.60 394.34 L512.00 394.41 L512.39 394.47 L512.79 394.54 L513.18 394.60 L513.58 394.66 L513.98 394.73 L514.37 394.79 L514.77 394.85 L515.16 394.91 L515.56 394.97 L515.96 395.04 L516.35 395.10 L516.75 395.16 L517.14 395.22 L517.54 395.27 L517.93 395.33 L518.33 395.39 L518.73 395.45 L519.12 395.51 L519.52 395.56 L519.91 395.62 L520.31 395.68 L520.71 395.73 L521.10 395.79 L521.50 395.84 L521.89 395.90 L522.29 395.95 L522.68 396.01 L523.08 396.06 L523.48 396.12 L523.87 396.17 L524.27 396.22 L524.66 396.27 L525.06 396.33 L525.46 396.38 L525.85 396.43 L526.25 396.48 L526.64 396.53 L527.04 396.58 L527.43 396.63 L527.83 396.68 L528.23 396.73 L528.62 396.78 L529.02 396.83 L529.41 396.87 L529.81 396.92 L530.21 396.97 L530.60 397.02 L531.00 397.06 L531.39 397.11 L531.79 397.16 L532.18 397.20 L532.58 397.25 L532.98 397.30 L533.37 397.34 L533.77 397.39 L534.16 397.43 L534.56 397.48 L534.95 397.52 L535.35 397.56 L535.75 397.61 L536.14 397.65 L536.54 397.69 L536.93 397.74 L537.33 397.78 L537.73 397.82 L538.12 397.86 L538.52 397.90 L538.91 397.95 L539.31 397.99 L539.70 398.03 L540.10 398.07 L540.50 398.11 L540.89 398.15 L541.29 398.19 L541.68 398.23 L542.08 398.27 L542.48 398.31 L542.87 398.35 L543.27 398.39 L543.66 398.42 L544.06 398.46 L544.45 398.50 L544.85 398.54 L545.25 398.58 L545.64 398.61" stroke-dasharray="7.30 7.10" stroke-dashoffset="8.95"/>
<path d="M70.66 407.21 L71.05 407.21 L71.45 407.20 L71.85 407.20 L72.24 407.19 L72.64 407.19 L73.03 407.18 L73.43 407.18 L73.82 407.18 L74.22 407.17 L74.62 407.17 L75.01 407.16 L75.41 407.16 L75.80 407.15 L76.20 407.15 L76.60 407.14 L76.99 407.14 L77.39 407.13 L77.78 407.13 L78.18 407.12 L78.57 407.11 L78.97 407.11 L79.37 407.10 L79.76 407.10 L80.16 407.09 L80.55 407.09 L80.95 407.08 L81.35 407.07 L81.74 407.07 L82.14 407.06 L82.53 407.05 L82.93 407.05 L83.32 407.04 L83.72 407.03 L84.12 407.02 L84.51 407.02 L84.91 407.01 L85.30 407.00 L85.70 406.99 L86.09 406.99 L86.49 406.98 L86.89 406.97 L87.28 406.96 L87.68 406.95 L88.07 406.94 L88.47 406.94 L88.87 406.93 L89.26 406.92 L89.66 406.91 L90.05 406.90 L90.45 406.89 L90.84 406.88 L91.24 406.87 L91.64 406.86 L92.03 406.85 L92.43 406.84 L92.82 406.83 L93.22 406.82 L93.62 406.81 L94.01 406.80 L94.41 406.78 L94.80 406.77 L95.20 406.76 L95.59 406.75 L95.99 406.74 L96.39 406.72 L96.78 406.71 L97.18 406.70 L97.57 406.69 L97.97 406.67 L98.37 406.66 L98.76 406.65 L99.16 406.63 L99.55 406.62 L99.95 406.60 L100.34 406.59 L100.74 406.57 L101.14 406.56 L101.53 406.54 L101.93 406.53 L102.32 406.51 L102.72 406.50 L103.12 406.48 L103.51 406.46 L103.91 406.45 L104.30 406.43 L104.70 406.41 L105.09 406.39 L105.49 406.37 L105.89 406.36 L106.28 406.34 L106.68 406.32 L107.07 406.30 L107.47 406.28 L107.87 406.26 L108.26 406.24 L108.66 406.22 L109.05 406.20 L109.45 406.18 L109.84 406.16 L110.24 406.13 L110.64 406.11 L111.03 406.09 L111.43 406.07 L111.82 406.04 L112.22 406.02 L112.61 405.99 L113.01 405.97 L113.41 405.94 L113.80 405.92 L114.20 405.89 L114.59 405.87 L114.99 405.84 L115.39 405.81 L115.78 405.79 L116.18 405.76 L116.57 405.73 L116.97 405.70 L117.36 405.67 L117.76 405.64 L118.16 405.61 L118.55 405.58 L118.95 405.55 L119.34 405.52 L119.74 405.49 L120.14 405.46 L120.53 405.43 L120.93 405.39 L121.32 405.36 L121.72 405.32 L122.11 405.29 L122.51 405.25 L122.91 405.22 L123.30 405.18 L123.70 405.15 L124.09 405.11 L124.49 405.07 L124.89 405.03 L125.28 404.99 L125.68 404.95 L126.07 404.91 L126.47 404.87 L126.86 404.83 L127.26 404.79 L127.66 404.75 L128.05 404.70 L128.45 404.66 L128.84 404.62 L129.24 404.57 L129.64 404.52 L130.03 404.48 L130.43 404.43 L130.82 404.38 L131.22 404.34 L131.61 404.29 L132.01 404.24 L132.41 404.19 L132.80 404.13 L133.20 404.08 L133.59 404.03 L133.99 403.98 L134.39 403.92 L134.78 403.87 L135.18 403.81 L135.57 403.76 L135.97 403.70 L136.36 403.64 L136.76 403.58 L137.16 403.52 L137.55 403.46 L137.95 403.40 L138.34 403.34 L138.74 403.28 L139.13 403.21 L139.53 403.15 L139.93 403.08 L140.32 403.02 L140.72 402.95 L141.11 402.88 L141.51 402.81 L141.91 402.74 L142.30 402.67 L142.70 402.60 L143.09 402.53 L143.49 402.45 L143.88 402.38 L144.28 402.30 L144.68 402.23 L145.07 402.15 L145.47 402.07 L145.86 401.99 L146.26 401.91 L146.66 401.83 L147.05 401.75 L147.45 401.66 L147.84 401.58 L148.24 401.49 L148.63 401.41 L149.03 401.32 L149.43 401.23 L149.82 401.14 L150.22 401.05 L150.61 400.95 L151.01 400.86 L151.41 400.77 L151.80 400.67 L152.20 400.57 L152.59 400.47 L152.99 400.37 L153.38 400.27 L153.78 400.17 L154.18 400.07 L154.57 399.96 L154.97 399.86 L155.36 399.75 L155.76 399.64 L156.16 399.53 L156.55 399.42 L156.95 399.31 L157.34 399.19 L157.74 399.08 L158.13 398.96 L158.53 398.84 L158.93 398.73 L159.32 398.60 L159.72 398.48 L160.11 398.36 L160.51 398.23 L160.90 398.11 L161.30 397.98 L161.70 397.85 L162.09 397.72 L162.49 397.59 L162.88 397.45 L163.28 397.32 L163.68 397.18 L164.07 397.04 L164.47 396.90 L164.86 396.76 L165.26 396.62 L165.65 396.47 L166.05 396.33 L166.45 396.18 L166.84 396.03 L167.24 395.88 L167.63 395.72 L168.03 395.57 L168.43 395.41 L168.82 395.25 L169.22 395.09 L169.61 394.93 L170.01 394.77 L170.40 394.60 L170.80 394.44 L171.20 394.27 L171.59 394.10 L171.99 393.93 L172.38 393.75 L172.78 393.58 L173.18 393.40 L173.57 393.22 L173.97 393.04 L174.36 392.85 L174.76 392.67 L175.15 392.48 L175.55 392.29 L175.95 392.10 L176.34 391.91 L176.74 391.71 L177.13 391.51 L177.53 391.31 L177.93 391.11 L178.32 390.91 L178.72 390.70 L179.11 390.50 L179.51 390.29 L179.90 390.08 L180.30 389.86 L180.70 389.65 L181.09 389.43 L181.49 389.21 L181.88 388.99 L182.28 388.76 L182.68 388.54 L183.07 388.31 L183.47 388.08 L183.86 387.84 L184.26 387.61 L184.65 387.37 L185.05 387.13 L185.45 386.89 L185.84 386.64 L186.24 386.40 L186.63 386.15 L187.03 385.90 L187.42 385.64 L187.82 385.39 L188.22 385.13 L188.61 384.87 L189.01 384.61 L189.40 384.34 L189.80 384.07 L190.20 383.80 L190.59 383.53 L190.99 383.25 L191.38 382.98 L191.78 382.70 L192.17 382.41 L192.57 382.13 L192.97 381.84 L193.36 381.55 L193.76 381.26 L194.15 380.96 L194.55 380.67 L194.95 380.37 L195.34 380.06 L195.74 379.76 L196.13 379.45 L196.53 379.14 L196.92 378.83 L197.32 378.51 L197.72 378.19 L198.11 377.87 L198.51 377.55 L198.90 377.22 L199.30 376.89 L199.70 376.56 L200.09 376.23 L200.49 375.89 L200.88 375.55 L201.28 375.21 L201.67 374.86 L202.07 374.51 L202.47 374.16 L202.86 373.81 L203.26 373.45 L203.65 373.10 L204.05 372.73 L204.45 372.37 L204.84 372.00 L205.24 371.63 L205.63 371.26 L206.03 370.88 L206.42 370.51 L206.82 370.12 L207.22 369.74 L207.61 369.35 L208.01 368.96 L208.40 368.57 L208.80 368.17 L209.20 367.78 L209.59 367.37 L209.99 366.97 L210.38 366.56 L210.78 366.15 L211.17 365.74 L211.57 365.33 L211.97 364.91 L212.36 364.49 L212.76 364.06 L213.15 363.63 L213.55 363.20 L213.94 362.77 L214.34 362.33 L214.74 361.90 L215.13 361.45 L215.53 361.01 L215.92 360.56 L216.32 360.11 L216.72 359.66 L217.11 359.20 L217.51 358.74 L217.90 358.28 L218.30 357.81 L218.69 357.35 L219.09 356.87 L219.49 356.40 L219.88 355.92 L220.28 355.44 L220.67 354.96 L221.07 354.47 L221.47 353.99 L221.86 353.49 L222.26 353.00 L222.65 352.50 L223.05 352.00 L223.44 351.50 L223.84 350.99 L224.24 350.48 L224.63 349.97 L225.03 349.46 L225.42 348.94 L225.82 348.42 L226.22 347.89 L226.61 347.37 L227.01 346.84 L227.40 346.30 L227.80 345.77 L228.19 345.23 L228.59 344.69 L228.99 344.15 L229.38 343.60 L229.78 343.05 L230.17 342.50 L230.57 341.94 L230.97 341.39 L231.36 340.83 L231.76 340.26 L232.15 339.70 L232.55 339.13 L232.94 338.56 L233.34 337.98 L233.74 337.40 L234.13 336.82 L234.53 336.24 L234.92 335.66 L235.32 335.07 L235.71 334.48 L236.11 333.88 L236.51 333.29 L236.90 332.69 L237.30 332.09 L237.69 331.49 L238.09 330.88 L238.49 330.27 L238.88 329.66 L239.28 329.04 L239.67 328.43 L240.07 327.81 L240.46 327.19 L240.86 326.56 L241.26 325.94 L241.65 325.31 L242.05 324.68 L242.44 324.04 L242.84 323.41 L243.24 322.77 L243.63 322.13 L244.03 321.48 L244.42 320.84 L244.82 320.19 L245.21 319.54 L245.61 318.89 L246.01 318.24 L246.40 317.58 L246.80 316.92 L247.19 316.26 L247.59 315.60 L247.99 314.93 L248.38 314.26 L248.78 313.59 L249.17 312.92 L249.57 312.25 L249.96 311.57 L250.36 310.90 L250.76 310.22 L251.15 309.54 L251.55 308.85 L251.94 308.17 L252.34 307.48 L252.74 306.79 L253.13 306.10 L253.53 305.41 L253.92 304.72 L254.32 304.02 L254.71 303.33 L255.11 302.63 L255.51 301.93 L255.90 301.23 L256.30 300.52 L256.69 299.82 L257.09 299.11 L257.49 298.41 L257.88 297.70 L258.28 296.99 L258.67 296.28 L259.07 295.56 L259.46 294.85 L259.86 294.13 L260.26 293.42 L260.65 292.70 L261.05 291.98 L261.44 291.26 L261.84 290.54 L262.23 289.82 L262.63 289.09 L263.03 288.37 L263.42 287.65 L263.82 286.92 L264.21 286.19 L264.61 285.47 L265.01 284.74 L265.40 284.01 L265.80 283.28 L266.19 282.55 L266.59 281.82 L266.98 281.09 L267.38 280.36 L267.78 279.63 L268.17 278.89 L268.57 278.16 L268.96 277.43 L269.36 276.69 L269.76 275.96 L270.15 275.23 L270.55 274.49 L270.94 273.76 L271.34 273.02 L271.73 272.29 L272.13 271.55 L272.53 270.82 L272.92 270.08 L273.32 269.35 L273.71 268.61 L274.11 267.88 L274.51 267.15 L274.90 266.41 L275.30 265.68 L275.69 264.95 L276.09 264.22 L276.48 263.48 L276.88 262.75 L277.28 262.02 L277.67 261.29 L278.07 260.56 L278.46 259.83 L278.86 259.10 L279.26 258.38 L279.65 257.65 L280.05 256.93 L280.44 256.20 L280.84 255.48 L281.23 254.76 L281.63 254.03 L282.03 253.31 L282.42 252.59 L282.82 251.88 L283.21 251.16 L283.61 250.44 L284.00 249.73 L284.40 249.02 L284.80 248.31 L285.19 247.60 L285.59 246.89 L285.98 246.18 L286.38 245.48 L286.78 244.77 L287.17 244.07 L287.57 243.37 L287.96 242.68 L288.36 241.98 L288.75 241.29 L289.15 240.60 L289.55 239.91 L289.94 239.22 L290.34 238.53 L290.73 237.85 L291.13 237.17 L291.53 236.49 L291.92 235.81 L292.32 235.14 L292.71 234.47 L293.11 233.80 L293.50 233.13 L293.90 232.47 L294.30 231.81 L294.69 231.15 L295.09 230.49 L295.48 229.84 L295.88 229.19 L296.28 228.54 L296.67 227.90 L297.07 227.26 L297.46 226.62 L297.86 225.98 L298.25 225.35 L298.65 224.72 L299.05 224.10 L299.44 223.47 L299.84 222.85 L300.23 222.24 L300.63 221.63 L301.03 221.02 L301.42 220.41 L301.82 219.81 L302.21 219.21 L302.61 218.62 L303.00 218.03 L303.40 217.44 L303.80 216.86 L304.19 216.28 L304.59 215.70 L304.98 215.13 L305.38 214.56 L305.78 214.00 L306.17 213.44 L306.57 212.88 L306.96 212.33 L307.36 211.79 L307.75 211.24 L308.15 210.70 L308.55 210.17 L308.94 209.64 L309.34 209.11 L309.73 208.59 L310.13 208.08 L310.52 207.56 L310.92 207.06 L311.32 206.55 L311.71 206.06 L312.11 205.56 L312.50 205.07 L312.90 204.59 L313.30 204.11 L313.69 203.64 L314.09 203.17 L314.48 202.70 L314.88 202.24 L315.27 201.79 L315.67 201.34 L316.07 200.90 L316.46 200.46 L316.86 200.02 L317.25 199.60 L317.65 199.17 L318.05 198.75 L318.44 198.34 L318.84 197.93 L319.23 197.53 L319.63 197.14 L320.02 196.74 L320.42 196.36 L320.82 195.98 L321.21 195.60 L321.61 195.24 L322.00 194.87 L322.40 194.51 L322.80 194.16 L323.19 193.82 L323.59 193.48 L323.98 193.14 L324.38 192.81 L324.77 192.49 L325.17 192.17 L325.57 191.86 L325.96 191.55 L326.36 191.25 L326.75 190.96 L327.15 190.67 L327.55 190.39 L327.94 190.12 L328.34 189.85 L328.73 189.58 L329.13 189.33 L329.52 189.07 L329.92 188.83 L330.32 188.59 L330.71 188.36 L331.11 188.13 L331.50 187.91 L331.90 187.70 L332.30 187.49 L332.69 187.29 L333.09 187.09 L333.48 186.90 L333.88 186.72 L334.27 186.54 L334.67 186.38 L335.07 186.21 L335.46 186.05 L335.86 185.90 L336.25 185.76 L336.65 185.62 L337.04 185.49 L337.44 185.37 L337.84 185.25 L338.23 185.14 L338.63 185.03 L339.02 184.93 L339.42 184.84 L339.82 184.75 L340.21 184.67 L340.61 184.60 L341.00 184.54 L341.40 184.48 L341.79 184.42 L342.19 184.38 L342.59 184.34 L342.98 184.30 L343.38 184.28 L343.77 184.25 L344.17 184.24 L344.57 184.23 L344.80 184.23 L344.96 184.23 L345.36 184.24 L345.75 184.25 L346.15 184.27 L346.54 184.30 L346.94 184.33 L347.34 184.37 L347.73 184.41 L348.13 184.47 L348.52 184.52 L348.92 184.59 L349.32 184.66 L349.71 184.74 L350.11 184.82 L350.50 184.91 L350.90 185.01 L351.29 185.12 L351.69 185.23 L352.09 185.34 L352.48 185.47 L352.88 185.60 L353.27 185.73 L353.67 185.88 L354.07 186.03 L354.46 186.18 L354.86 186.34 L355.25 186.51 L355.65 186.69 L356.04 186.87 L356.44 187.06 L356.84 187.25 L357.23 187.45 L357.63 187.66 L358.02 187.87 L358.42 188.09 L358.81 188.32 L359.21 188.55 L359.61 188.78 L360.00 189.03 L360.40 189.28 L360.79 189.54 L361.19 189.80 L361.59 190.07 L361.98 190.34 L362.38 190.62 L362.77 190.91 L363.17 191.20 L363.56 191.50 L363.96 191.80 L364.36 192.11 L364.75 192.43 L365.15 192.75 L365.54 193.08 L365.94 193.41 L366.34 193.75 L366.73 194.10 L367.13 194.45 L367.52 194.81 L367.92 195.17 L368.31 195.54 L368.71 195.91 L369.11 196.29 L369.50 196.67 L369.90 197.06 L370.29 197.46 L370.69 197.86 L371.09 198.27 L371.48 198.68 L371.88 199.09 L372.27 199.52 L372.67 199.94 L373.06 200.38 L373.46 200.82 L373.86 201.26 L374.25 201.71 L374.65 202.16 L375.04 202.62 L375.44 203.08 L375.84 203.55 L376.23 204.02 L376.63 204.50 L377.02 204.98 L377.42 205.47 L377.81 205.96 L378.21 206.46 L378.61 206.96 L379.00 207.47 L379.40 207.98 L379.79 208.50 L380.19 209.02 L380.59 209.54 L380.98 210.07 L381.38 210.60 L381.77 211.14 L382.17 211.68 L382.56 212.23 L382.96 212.78 L383.36 213.34 L383.75 213.89 L384.15 214.46 L384.54 215.02 L384.94 215.60 L385.33 216.17 L385.73 216.75 L386.13 217.33 L386.52 217.92 L386.92 218.51 L387.31 219.10 L387.71 219.70 L388.11 220.30 L388.50 220.91 L388.90 221.51 L389.29 222.13 L389.69 222.74 L390.08 223.36 L390.48 223.98 L390.88 224.61 L391.27 225.23 L391.67 225.87 L392.06 226.50 L392.46 227.14 L392.86 227.78 L393.25 228.42 L393.65 229.07 L394.04 229.72 L394.44 230.37 L394.83 231.03 L395.23 231.68 L395.63 232.35 L396.02 233.01 L396.42 233.67 L396.81 234.34 L397.21 235.01 L397.61 235.69 L398.00 236.36 L398.40 237.04 L398.79 237.72 L399.19 238.41 L399.58 239.09 L399.98 239.78 L400.38 240.47 L400.77 241.16 L401.17 241.85 L401.56 242.55 L401.96 243.24 L402.36 243.94 L402.75 244.64 L403.15 245.35 L403.54 246.05 L403.94 246.76 L404.33 247.47 L404.73 248.17 L405.13 248.89 L405.52 249.60 L405.92 250.31 L406.31 251.03 L406.71 251.74 L407.10 252.46 L407.50 253.18 L407.90 253.90 L408.29 254.62 L408.69 255.34 L409.08 256.07 L409.48 256.79 L409.88 257.52 L410.27 258.24 L410.67 258.97 L411.06 259.70 L411.46 260.43 L411.85 261.16 L412.25 261.89 L412.65 262.62 L413.04 263.35 L413.44 264.08 L413.83 264.81 L414.23 265.54 L414.63 266.28 L415.02 267.01 L415.42 267.74 L415.81 268.48 L416.21 269.21 L416.60 269.95 L417.00 270.68 L417.40 271.42 L417.79 272.15 L418.19 272.89 L418.58 273.62 L418.98 274.35 L419.38 275.09 L419.77 275.82 L420.17 276.56 L420.56 277.29 L420.96 278.02 L421.35 278.76 L421.75 279.49 L422.15 280.22 L422.54 280.95 L422.94 281.68 L423.33 282.42 L423.73 283.15 L424.13 283.88 L424.52 284.60 L424.92 285.33 L425.31 286.06 L425.71 286.79 L426.10 287.51 L426.50 288.24 L426.90 288.96 L427.29 289.68 L427.69 290.41 L428.08 291.13 L428.48 291.85 L428.88 292.57 L429.27 293.28 L429.67 294.00 L430.06 294.72 L430.46 295.43 L430.85 296.14 L431.25 296.86 L431.65 297.57 L432.04 298.27 L432.44 298.98 L432.83 299.69 L433.23 300.39 L433.62 301.10 L434.02 301.80 L434.42 302.50 L434.81 303.20 L435.21 303.90 L435.60 304.59 L436.00 305.28 L436.40 305.98 L436.79 306.67 L437.19 307.36 L437.58 308.04 L437.98 308.73 L438.37 309.41 L438.77 310.09 L439.17 310.77 L439.56 311.45 L439.96 312.12 L440.35 312.80 L440.75 313.47 L441.15 314.14 L441.54 314.81 L441.94 315.47 L442.33 316.14 L442.73 316.80 L443.12 317.46 L443.52 318.11 L443.92 318.77 L444.31 319.42 L444.71 320.07 L445.10 320.72 L445.50 321.37 L445.90 322.01 L446.29 322.65 L446.69 323.29 L447.08 323.93 L447.48 324.56 L447.87 325.19 L448.27 325.82 L448.67 326.45 L449.06 327.07 L449.46 327.69 L449.85 328.31 L450.25 328.93 L450.65 329.54 L451.04 330.16 L451.44 330.77 L451.83 331.37 L452.23 331.98 L452.62 332.58 L453.02 333.18 L453.42 333.77 L453.81 334.37 L454.21 334.96 L454.60 335.55 L455.00 336.13 L455.40 336.72 L455.79 337.30 L456.19 337.87 L456.58 338.45 L456.98 339.02 L457.37 339.59 L457.77 340.16 L458.17 340.72 L458.56 341.28 L458.96 341.84 L459.35 342.40 L459.75 342.95 L460.14 343.50 L460.54 344.05 L460.94 344.59 L461.33 345.13 L461.73 345.67 L462.12 346.21 L462.52 346.74 L462.92 347.27 L463.31 347.80 L463.71 348.32 L464.10 348.84 L464.50 349.36 L464.89 349.87 L465.29 350.39 L465.69 350.90 L466.08 351.40 L466.48 351.91 L466.87 352.41 L467.27 352.91 L467.67 353.40 L468.06 353.89 L468.46 354.38 L468.85 354.87 L469.25 355.35 L469.64 355.83 L470.04 356.31 L470.44 356.79 L470.83 357.26 L471.23 357.73 L471.62 358.19 L472.02 358.66 L472.42 359.12 L472.81 359.57 L473.21 360.03 L473.60 360.48 L474.00 360.93 L474.39 361.37 L474.79 361.81 L475.19 362.25 L475.58 362.69 L475.98 363.12 L476.37 363.55 L476.77 363.98 L477.17 364.41 L477.56 364.83 L477.96 365.25 L478.35 365.66 L478.75 366.08 L479.14 366.49 L479.54 366.90 L479.94 367.30 L480.33 367.70 L480.73 368.10 L481.12 368.50 L481.52 368.89 L481.91 369.28 L482.31 369.67 L482.71 370.05 L483.10 370.43 L483.50 370.81 L483.89 371.19 L484.29 371.56 L484.69 371.93 L485.08 372.30 L485.48 372.67 L485.87 373.03 L486.27 373.39 L486.66 373.74 L487.06 374.10 L487.46 374.45 L487.85 374.80 L488.25 375.14 L488.64 375.49 L489.04 375.83 L489.44 376.16 L489.83 376.50 L490.23 376.83 L490.62 377.16 L491.02 377.49 L491.41 377.81 L491.81 378.13 L492.21 378.45 L492.60 378.77 L493.00 379.08 L493.39 379.39 L493.79 379.70 L494.19 380.01 L494.58 380.31 L494.98 380.61 L495.37 380.91 L495.77 381.20 L496.16 381.50 L496.56 381.79 L496.96 382.08 L497.35 382.36 L497.75 382.64 L498.14 382.93 L498.54 383.20 L498.94 383.48 L499.33 383.75 L499.73 384.02 L500.12 384.29 L500.52 384.56 L500.91 384.82 L501.31 385.08 L501.71 385.34 L502.10 385.60 L502.50 385.85 L502.89 386.10 L503.29 386.35 L503.69 386.60 L504.08 386.84 L504.48 387.09 L504.87 387.33 L505.27 387.56 L505.66 387.80 L506.06 388.03 L506.46 388.26 L506.85 388.49 L507.25 388.72 L507.64 388.95 L508.04 389.17 L508.43 389.39 L508.83 389.61 L509.23 389.82 L509.62 390.04 L510.02 390.25 L510.41 390.46 L510.81 390.67 L511.21 390.87 L511.60 391.08 L512.00 391.28 L512.39 391.48 L512.79 391.67 L513.18 391.87 L513.58 392.06 L513.98 392.26 L514.37 392.44 L514.77 392.63 L515.16 392.82 L515.56 393.00 L515.96 393.18 L516.35 393.36 L516.75 393.54 L517.14 393.72 L517.54 393.89 L517.93 394.07 L518.33 394.24 L518.73 394.41 L519.12 394.57 L519.52 394.74 L519.91 394.90 L520.31 395.06 L520.71 395.22 L521.10 395.38 L521.50 395.54 L521.89 395.70 L522.29 395.85 L522.68 396.00 L523.08 396.15 L523.48 396.30 L523.87 396.45 L524.27 396.59 L524.66 396.73 L525.06 396.88 L525.46 397.02 L525.85 397.16 L526.25 397.29 L526.64 397.43 L527.04 397.56 L527.43 397.70 L527.83 397.83 L528.23 397.96 L528.62 398.08 L529.02 398.21 L529.41 398.34 L529.81 398.46 L530.21 398.58 L530.60 398.70 L531.00 398.82 L531.39 398.94 L531.79 399.06 L532.18 399.17 L532.58 399.29 L532.98 399.40 L533.37 399.51 L533.77 399.62 L534.16 399.73 L534.56 399.84 L534.95 399.94 L535.35 400.05 L535.75 400.15 L536.14 400.25 L536.54 400.36 L536.93 400.46 L537.33 400.55 L537.73 400.65 L538.12 400.75 L538.52 400.84 L538.91 400.94 L539.31 401.03 L539.70 401.12 L540.10 401.21 L540.50 401.30 L540.89 401.39 L541.29 401.48 L541.68 401.56 L542.08 401.65 L542.48 401.73 L542.87 401.81 L543.27 401.90 L543.66 401.98 L544.06 402.06 L544.45 402.14 L544.85 402.21 L545.25 402.29 L545.64 402.37" stroke-dasharray="0.01 7.4" stroke-linecap="round" stroke-dashoffset="3.11"/>
<path d="M374.2 37.5 H429.4"/>
<path d="M374.2 72.9 H429.4" stroke-dasharray="7.5 7.3"/>
<path d="M375.05 108.4 H429.4" stroke-dasharray="0.01 7.4" stroke-linecap="round"/>
</g>
<g font-family="'Liberation Sans', Arial, Helvetica, sans-serif" fill="#000" stroke="#000" stroke-linejoin="round">
<g font-size="29.2px" stroke-width="0.5">
<text x="455.4" y="48.3">BTPN</text>
<text x="455.4" y="83.1">ESIG</text>
<text x="455.4" y="119.0">ASN</text>
</g>
<g font-size="14.7px" stroke-width="0.2" text-anchor="middle">
<text x="124.90" y="454.6">−3</text>
<text x="198.20" y="454.6">−2</text>
<text x="271.50" y="454.6">−1</text>
<text x="344.80" y="454.6">0</text>
<text x="418.10" y="454.6">1</text>
<text x="491.40" y="454.6">2</text>
<text transform="translate(48.7 407.40) rotate(-90)">0.0</text>
<text transform="translate(48.7 351.74) rotate(-90)">0.1</text>
<text transform="translate(48.7 296.08) rotate(-90)">0.2</text>
<text transform="translate(48.7 240.42) rotate(-90)">0.3</text>
<text transform="translate(48.7 184.76) rotate(-90)">0.4</text>
<text transform="translate(48.7 129.10) rotate(-90)">0.5</text>
<text transform="translate(48.7 73.44) rotate(-90)">0.6</text>
<text transform="translate(48.7 17.78) rotate(-90)">0.7</text>
<text x="308.2" y="490.1">Variable</text>
<text transform="translate(14.4 212.4) rotate(-90)">Density</text>
</g></g>
</svg>
</body></html>
